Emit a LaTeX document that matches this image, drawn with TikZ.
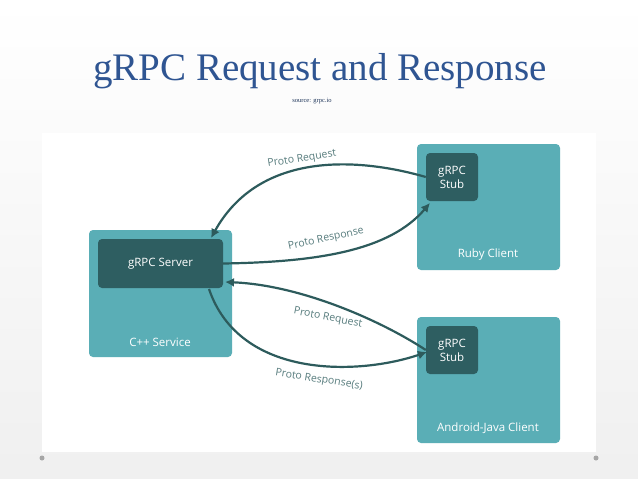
\documentclass[tikz,border=0pt]{standalone}
\usepackage{fontspec}
\setmainfont{Liberation Serif}
\newfontfamily\boxfont{Open Sans}
\usetikzlibrary{arrows.meta}
\definecolor{teal1}{HTML}{5AAEB6}
\definecolor{dark1}{HTML}{2E5E61}
\definecolor{arr}{HTML}{2D5B5C}
\definecolor{titlec}{HTML}{2F5592}
\begin{document}
\begin{tikzpicture}[x=1pt,y=-1pt,
  outer/.style={fill=teal1,rounded corners=4pt,draw=none},
  inner/.style={fill=dark1,rounded corners=4pt,draw=none,text=white,font=\boxfont\fontsize{11.5}{14}\selectfont,align=center},
  lbl/.style={text=white,font=\boxfont\fontsize{11.5}{14}\selectfont},
  conn/.style={draw=arr,line width=2.2pt,-{Latex[length=9pt,width=9pt]}},
  clbl/.style={text=arr!80,font=\boxfont\fontsize{10.5}{12}\selectfont,inner sep=1pt}]
\useasboundingbox (0,0) rectangle (638,479);
\shade[top color=white,bottom color=gray!12] (0,0) rectangle (638,479);
\fill[white] (42,133) rectangle (596,452);
\fill[gray!70] (42,458) circle (2.5);
\fill[gray!70] (596,458) circle (2.5);
\node (title) at (320,71) {\fontsize{39}{44}\selectfont\color{titlec}gRPC Request and Response};
\node (src) at (312,101) {\fontsize{6.5}{7}\selectfont\color{titlec!60!black}source: grpc.io};
% boxes
\node[outer,minimum width=143pt,minimum height=127pt] (cpp) at (160.5,293.5) {};
\node[inner,minimum width=125pt,minimum height=49pt] (server) at (160.5,263.5) {gRPC Server};
\node[lbl] (cppl) at (160,342) {C++ Service};
\node[outer,minimum width=143pt,minimum height=126pt] (ruby) at (488.5,207) {};
\node[inner,minimum width=52pt,minimum height=48pt] (stub1) at (452,177) {gRPC\\Stub};
\node[lbl] (rubyl) at (488,255) {Ruby Client};
\node[outer,minimum width=143pt,minimum height=126pt] (andr) at (488.5,380) {};
\node[inner,minimum width=52pt,minimum height=48pt] (stub2) at (452,350) {gRPC\\Stub};
\node[lbl] (andrl) at (488,428) {Android-Java Client};
% connectors
\draw[conn] (stub1.west) .. controls (360,158) and (260,150) .. (211,238);
\draw[conn] (server.east) .. controls (320,262) and (390,250) .. (430,203);
\draw[conn] (stub2.west) .. controls (380,320) and (300,285) .. (225,282);
\draw[conn] (209,289) .. controls (240,380) and (360,375) .. (427,352);
% labels
\node[clbl,rotate=9] (l1) at (302,159) {Proto Request};
\node[clbl,rotate=12] (l2) at (326,239) {Proto Response};
\node[clbl,rotate=-11] (l3) at (328,318) {Proto Request};
\node[clbl,rotate=-9] (l4) at (319,380) {Proto Response(s)};
\end{tikzpicture}
\end{document}
